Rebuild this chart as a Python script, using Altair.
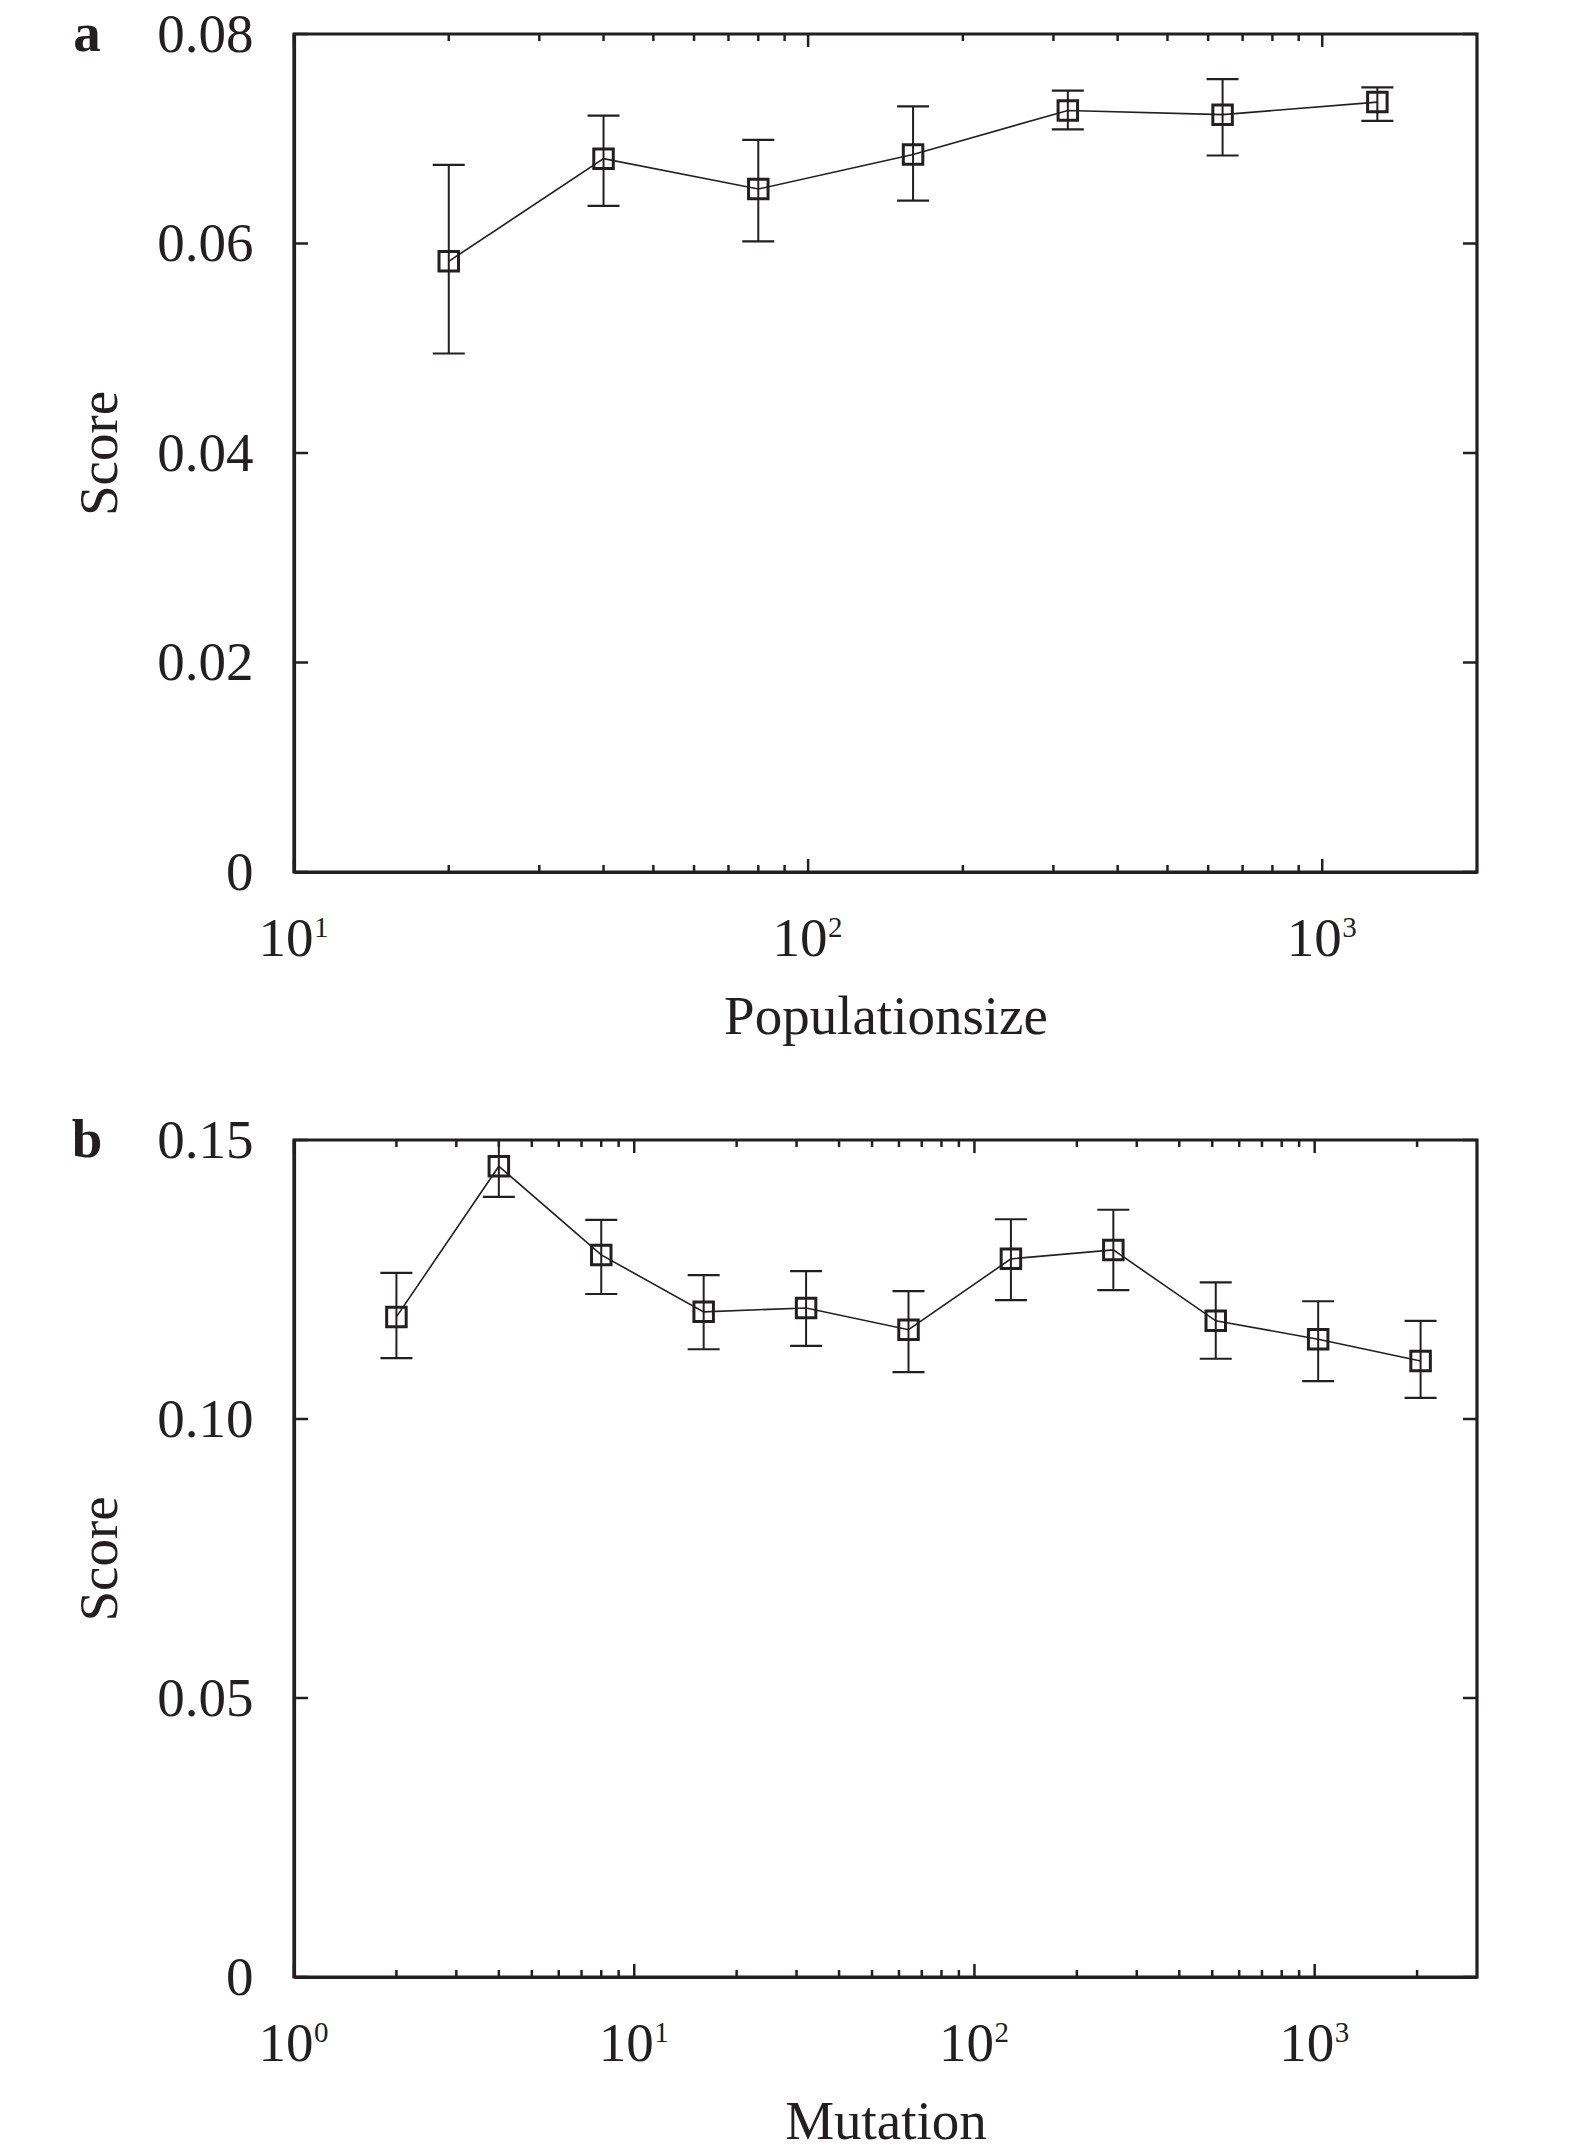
import altair as alt
import pandas as pd

# Panel a: score versus population size
pop_size = [20, 40, 80, 160, 320, 640, 1280]
pop_score = [0.0583, 0.0681, 0.0652, 0.0685, 0.0727, 0.0723, 0.0735]
pop_low = [0.0495, 0.0636, 0.0602, 0.0641, 0.0709, 0.0684, 0.0717]
pop_high = [0.0675, 0.0722, 0.0699, 0.0731, 0.0746, 0.0757, 0.0749]

# Panel b: score versus mutation
mut_rate = [2, 4, 8, 16, 32, 64, 128, 256, 512, 1024, 2048]
mut_score = [0.1183, 0.1453, 0.1294, 0.1192, 0.1199, 0.1160, 0.1287, 0.1303, 0.1176, 0.1143, 0.1104]
mut_low = [0.1109, 0.1398, 0.1224, 0.1125, 0.1131, 0.1084, 0.1213, 0.1231, 0.1108, 0.1068, 0.1038]
mut_high = [0.1262, 0.1500, 0.1357, 0.1258, 0.1265, 0.1229, 0.1358, 0.1375, 0.1245, 0.1211, 0.1176]

# Axis settings
pop_xdomain = [10, 2000]
pop_ydomain = [0, 0.08]
pop_yticks = [0, 0.02, 0.04, 0.06, 0.08]
pop_xmajor = [10, 100, 1000]
pop_xexp = ["1", "2", "3"]
pop_xminor = [20, 30, 40, 50, 60, 70, 80, 90, 200, 300, 400, 500, 600, 700, 800, 900]

mut_xdomain = [1, 3000]
mut_ydomain = [0, 0.15]
mut_yticks = [0, 0.05, 0.10, 0.15]
mut_xmajor = [1, 10, 100, 1000]
mut_xexp = ["0", "1", "2", "3"]
mut_xminor = [2, 3, 4, 5, 6, 7, 8, 9, 20, 30, 40, 50, 60, 70, 80, 90,
              200, 300, 400, 500, 600, 700, 800, 900, 2000]

INK = "#231f20"
FONT = "Liberation Serif"
FS = 55
SUP = 29
W = 1183


def panel(letter, xs, ys, lo, hi, xdomain, ydomain, yticks, xmajor, xexp, xminor, xtitle, height):
    df = pd.DataFrame({"x": xs, "y": ys, "lo": lo, "hi": hi})
    xscale = alt.Scale(type="log", domain=xdomain, nice=False)
    yscale = alt.Scale(domain=ydomain, nice=False, zero=False)

    x_axis = alt.Axis(
        values=xmajor, labels=False,
        ticks=False, tickSize=0, grid=False,
        titleBaseline="alphabetic", titlePadding=161,
    )
    y_axis = alt.Axis(
        values=yticks,
        labelExpr="datum.value == 0 ? '0' : format(datum.value, '.2f')",
        ticks=False, tickSize=0, grid=False, labelPadding=41,
        titleBaseline="alphabetic", titlePadding=40,
    )

    def X(field):
        return alt.X(field, type="quantitative", scale=xscale, axis=x_axis, title=xtitle)

    def Y(field):
        return alt.Y(field, type="quantitative", scale=yscale, axis=y_axis, title="Score")

    base = alt.Chart(df)
    line = base.mark_line(color=INK, strokeWidth=1.6).encode(x=X("x"), y=Y("y"))
    bars = base.mark_rule(color=INK, strokeWidth=2).encode(x=X("x"), y=Y("lo"), y2="hi:Q")
    cap_lo = base.mark_tick(color=INK, orient="horizontal", size=32, thickness=2.2, opacity=1).encode(
        x=X("x"), y=Y("lo"))
    cap_hi = base.mark_tick(color=INK, orient="horizontal", size=32, thickness=2.2, opacity=1).encode(
        x=X("x"), y=Y("hi"))
    pts = base.mark_point(shape="square", size=380, filled=False, strokeWidth=3,
                          color=INK, opacity=1).encode(x=X("x"), y=Y("y"))

    # inward tick marks on all four sides
    maj = pd.DataFrame({"x": xmajor})
    mnr = pd.DataFrame({"x": xminor})
    yt = pd.DataFrame({"y": yticks})
    tick_layers = []
    for data, length in ((maj, 13), (mnr, 7)):
        tick_layers.append(alt.Chart(data).mark_rule(color=INK, strokeWidth=2.5).encode(
            x=X("x"), y=alt.value(height), y2=alt.value(height - length)))
        tick_layers.append(alt.Chart(data).mark_rule(color=INK, strokeWidth=2.5).encode(
            x=X("x"), y=alt.value(0), y2=alt.value(length)))
    tick_layers.append(alt.Chart(yt).mark_rule(color=INK, strokeWidth=2.5).encode(
        y=Y("y"), x=alt.value(0), x2=alt.value(14)))
    tick_layers.append(alt.Chart(yt).mark_rule(color=INK, strokeWidth=2.5).encode(
        y=Y("y"), x=alt.value(W - 14), x2=alt.value(W)))

    # decade labels: "10" with a raised exponent
    lab = pd.DataFrame({"x": xmajor, "base": ["10"] * len(xmajor), "exp": xexp})
    lab_base = alt.Chart(lab).mark_text(
        font=FONT, fontSize=FS, color=INK, align="center", baseline="alphabetic", dx=-8
    ).encode(x=X("x"), y=alt.value(height + 84), text="base:N")
    lab_exp = alt.Chart(lab).mark_text(
        font=FONT, fontSize=SUP, color=INK, align="left", baseline="alphabetic", dx=20
    ).encode(x=X("x"), y=alt.value(height + 65), text="exp:N")

    tag = alt.Chart(pd.DataFrame({"t": [letter]})).mark_text(
        font=FONT, fontSize=FS, fontWeight="bold", color=INK, align="center", baseline="alphabetic"
    ).encode(text="t:N", x=alt.value(-207), y=alt.value(17))

    return alt.layer(line, bars, cap_lo, cap_hi, pts, *tick_layers, lab_base, lab_exp, tag).properties(
        width=W, height=height
    )


panel_a = panel("a", pop_size, pop_score, pop_low, pop_high, pop_xdomain, pop_ydomain,
                pop_yticks, pop_xmajor, pop_xexp, pop_xminor, "Populationsize", 838)
panel_b = panel("b", mut_rate, mut_score, mut_low, mut_high, mut_xdomain, mut_ydomain,
                mut_yticks, mut_xmajor, mut_xexp, mut_xminor, "Mutation", 837)

chart = alt.vconcat(panel_a, panel_b, spacing=65).properties(
    padding={"left": 70, "top": 5, "right": 5, "bottom": 5},
    background="white",
).configure_view(
    stroke=INK, strokeWidth=3.2
).configure_axis(
    labelFont=FONT, titleFont=FONT, labelFontSize=FS, titleFontSize=FS,
    labelColor=INK, titleColor=INK, titleFontWeight="normal",
    domainColor=INK, domainWidth=3.2,
)

chart.save("out.html", embed_options={"renderer": "svg", "actions": False})
